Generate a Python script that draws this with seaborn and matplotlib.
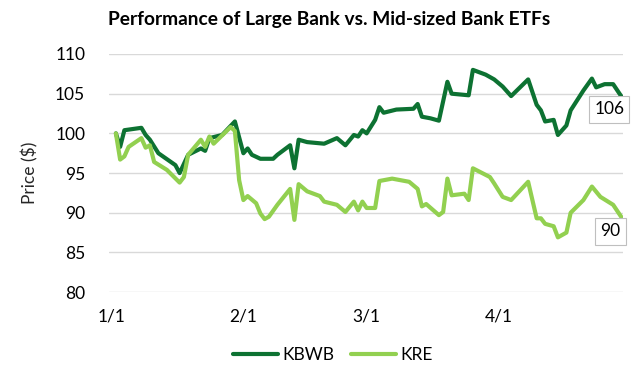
import matplotlib
matplotlib.use("Agg")
import matplotlib.pyplot as plt
import matplotlib.dates as mdates
from matplotlib.lines import Line2D
import seaborn as sns
import pandas as pd

# ---- data (2024) ----
kbwb_dates = ["2024-01-02", "2024-01-03", "2024-01-04", "2024-01-08", "2024-01-09", "2024-01-10",
              "2024-01-12", "2024-01-16", "2024-01-17", "2024-01-19", "2024-01-22", "2024-01-23",
              "2024-01-24", "2024-01-27", "2024-01-30", "2024-02-01", "2024-02-02", "2024-02-03",
              "2024-02-05", "2024-02-08", "2024-02-09", "2024-02-12", "2024-02-13", "2024-02-14",
              "2024-02-16", "2024-02-20", "2024-02-23", "2024-02-25", "2024-02-27", "2024-02-28",
              "2024-02-29", "2024-03-01", "2024-03-03", "2024-03-04", "2024-03-05", "2024-03-08",
              "2024-03-12", "2024-03-13", "2024-03-14", "2024-03-16", "2024-03-18", "2024-03-20",
              "2024-03-21", "2024-03-25", "2024-03-26", "2024-03-29", "2024-03-31", "2024-04-02",
              "2024-04-04", "2024-04-08", "2024-04-10", "2024-04-11", "2024-04-12", "2024-04-14",
              "2024-04-15", "2024-04-17", "2024-04-18", "2024-04-21", "2024-04-23", "2024-04-24",
              "2024-04-26", "2024-04-28", "2024-04-30"]
kbwb_values = [100.0, 98.3, 100.4, 100.7, 99.8, 99.2,
               97.5, 96.0, 95.0, 97.3, 98.1, 97.8,
               99.4, 99.8, 101.5, 97.5, 98.1, 97.3,
               96.8, 96.8, 97.3, 98.5, 95.6, 99.2,
               98.9, 98.7, 99.4, 98.5, 99.8, 99.6,
               100.4, 100.0, 101.7, 103.3, 102.6, 103.0,
               103.1, 103.7, 102.1, 101.9, 101.6, 106.5,
               105.0, 104.8, 108.0, 107.4, 106.8, 105.9,
               104.7, 106.8, 103.6, 102.9, 101.5, 101.7,
               99.8, 101.0, 102.9, 105.4, 106.9, 105.8,
               106.2, 106.2, 104.6]

kre_dates = ["2024-01-02", "2024-01-03", "2024-01-04", "2024-01-05", "2024-01-08", "2024-01-09",
             "2024-01-10", "2024-01-11", "2024-01-14", "2024-01-17", "2024-01-18", "2024-01-19",
             "2024-01-22", "2024-01-23", "2024-01-24", "2024-01-25", "2024-01-29", "2024-01-30",
             "2024-01-31", "2024-02-01", "2024-02-02", "2024-02-04", "2024-02-05", "2024-02-06",
             "2024-02-07", "2024-02-09", "2024-02-12", "2024-02-13", "2024-02-14", "2024-02-16",
             "2024-02-19", "2024-02-20", "2024-02-23", "2024-02-25", "2024-02-27", "2024-02-28",
             "2024-02-29", "2024-03-01", "2024-03-03", "2024-03-04", "2024-03-07", "2024-03-11",
             "2024-03-13", "2024-03-14", "2024-03-15", "2024-03-18", "2024-03-19", "2024-03-20",
             "2024-03-21", "2024-03-24", "2024-03-25", "2024-03-26", "2024-03-30", "2024-03-31",
             "2024-04-02", "2024-04-04", "2024-04-08", "2024-04-10", "2024-04-11", "2024-04-12",
             "2024-04-14", "2024-04-15", "2024-04-17", "2024-04-18", "2024-04-21", "2024-04-23",
             "2024-04-25", "2024-04-28", "2024-04-30"]
kre_values = [100.0, 96.7, 97.1, 98.3, 99.4, 98.2,
              98.5, 96.4, 95.4, 93.8, 94.5, 97.3,
              99.2, 98.3, 99.6, 98.7, 100.8, 100.3,
              94.1, 91.6, 92.1, 91.2, 89.9, 89.2,
              89.5, 91.0, 93.0, 89.1, 93.6, 92.7,
              92.1, 91.4, 91.0, 90.1, 91.4, 90.3,
              91.4, 90.6, 90.6, 94.0, 94.3, 93.9,
              93.0, 90.8, 91.1, 89.7, 90.1, 94.3,
              92.2, 92.4, 91.6, 95.6, 94.5, 93.7,
              92.0, 91.6, 93.9, 89.3, 89.3, 88.6,
              88.3, 86.9, 87.5, 90.0, 91.6, 93.3,
              92.0, 91.0, 89.4]

series_names = ["KBWB", "KRE"]
end_labels = ["106", "90"]
tick_dates = ["2024-01-01", "2024-02-01", "2024-03-01", "2024-04-01"]
tick_labels = ["1/1", "2/1", "3/1", "4/1"]
y_ticks = [80, 85, 90, 95, 100, 105, 110]

colors = {"KBWB": "#0D7232", "KRE": "#92D050"}

df = pd.concat([
    pd.DataFrame({"Date": pd.to_datetime(kbwb_dates), "Price": kbwb_values, "Fund": "KBWB"}),
    pd.DataFrame({"Date": pd.to_datetime(kre_dates), "Price": kre_values, "Fund": "KRE"}),
], ignore_index=True)

sns.set_theme(style="white")
plt.rcParams["font.family"] = ["Lato", "DejaVu Sans"]
plt.rcParams["text.color"] = "#000000"

fig = plt.figure(figsize=(6.4, 3.75), dpi=100)
ax = fig.add_axes([0.170, 0.221, 0.803, 0.635])

sns.lineplot(data=df, x="Date", y="Price", hue="Fund", palette=colors,
             hue_order=series_names, linewidth=3.0, ax=ax, legend=False,
             solid_capstyle="round", solid_joinstyle="round", zorder=3)

ax.set_ylim(80, 110)
ax.set_yticks(y_ticks)
ax.set_xlim(pd.Timestamp("2023-12-31 08:00"), pd.Timestamp("2024-04-30 06:00"))
ax.set_xticks(pd.to_datetime(tick_dates))
ax.set_xticklabels(tick_labels)
ax.grid(axis="y", color="#D9D9D9", linewidth=1.0, zorder=0)
ax.grid(axis="x", visible=False)
for s in ax.spines.values():
    s.set_visible(False)
ax.tick_params(axis="y", length=0, pad=17, labelsize=12.5, colors="#000000")
ax.tick_params(axis="x", length=0, pad=12, labelsize=12.5, colors="#000000")
ax.set_xlabel("")
ax.set_ylabel("Price ($)", fontsize=12.5, labelpad=12)

# end-of-line value boxes
for name, dates, vals, lab, off in [("KBWB", kbwb_dates, kbwb_values, end_labels[0], (-9, -9)),
                                    ("KRE", kre_dates, kre_values, end_labels[1], (-8, -10))]:
    ax.annotate(lab, xy=(pd.Timestamp(dates[-1]), vals[-1]), xytext=off,
                textcoords="offset points", ha="center", va="center", fontsize=12.5,
                annotation_clip=False, zorder=5,
                bbox=dict(boxstyle="square,pad=0.3", fc="white", ec="#BFBFBF", lw=0.8))

fig.suptitle("Performance of Large Bank vs. Mid-sized Bank ETFs", x=0.514, y=0.972,
             fontsize=13.8, fontweight="bold")

handles = [Line2D([0], [0], color=colors[n], lw=3.0, solid_capstyle="round") for n in series_names]
fig.legend(handles, series_names, loc="center", bbox_to_anchor=(0.52, 0.053), ncol=2,
           frameon=False, fontsize=12.5, handlelength=2.6, handletextpad=0.2, columnspacing=1.0)

fig.savefig("out.png", dpi=100)
